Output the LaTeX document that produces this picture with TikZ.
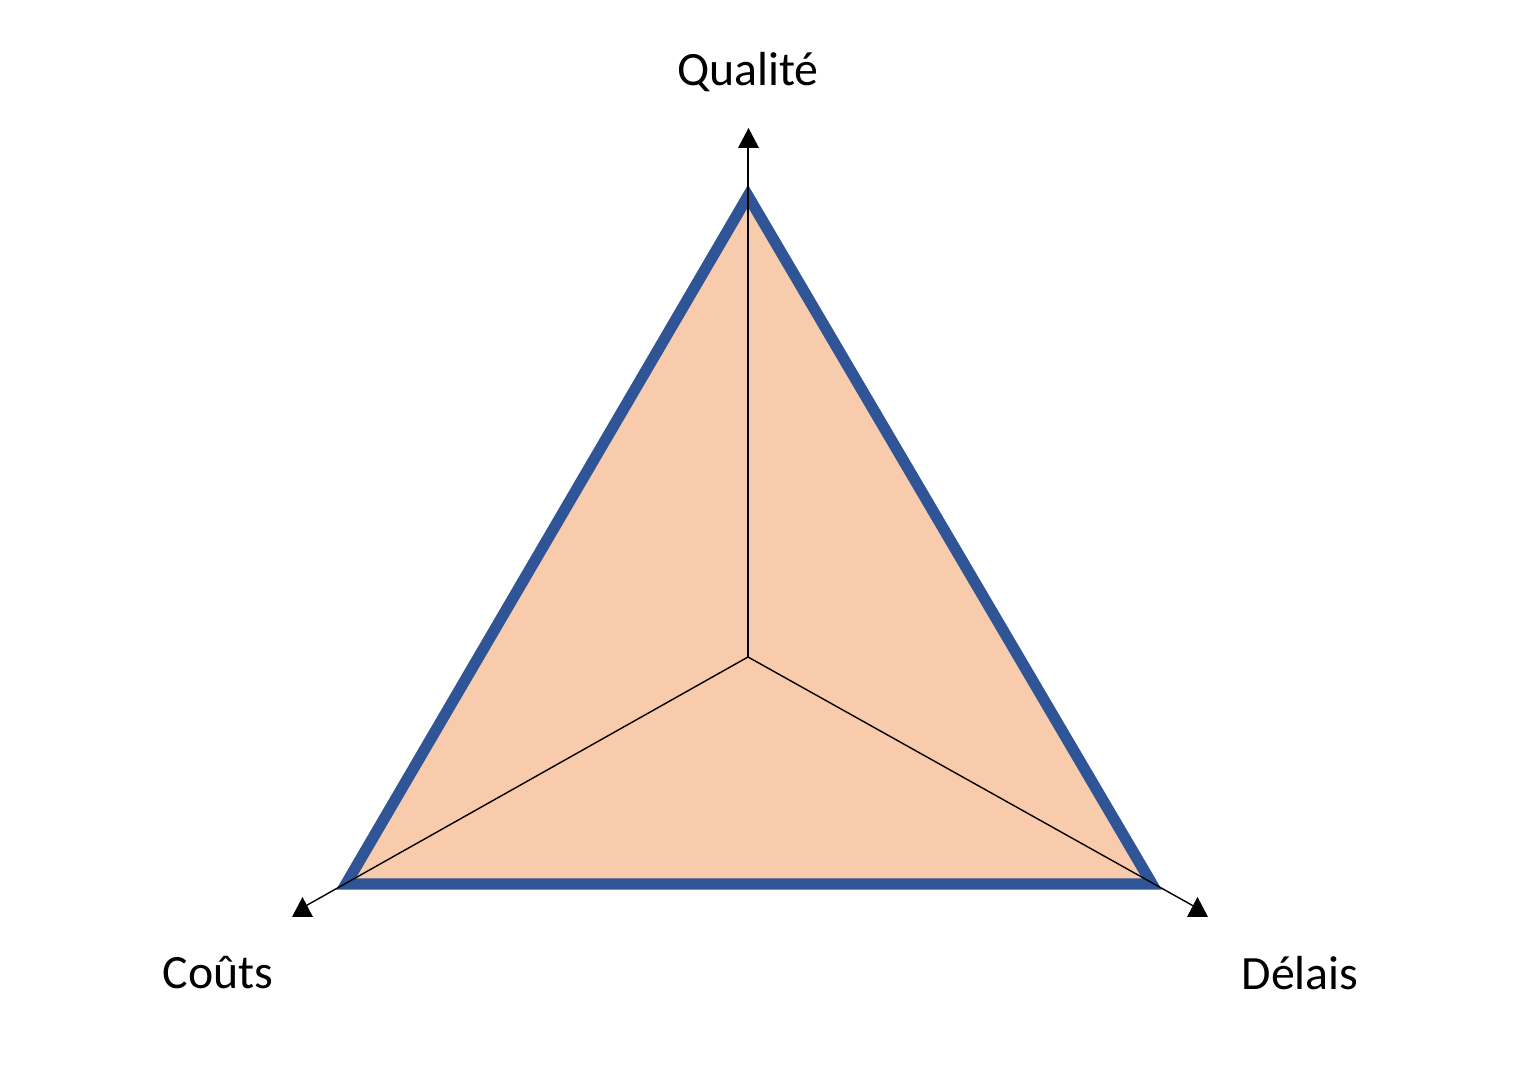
\documentclass[tikz,border=0pt]{standalone}
\usepackage{fontspec}
\setmainfont{Carlito}
\usepackage{xcolor}
\definecolor{edgeblue}{HTML}{2F5597}
\definecolor{fillpeach}{HTML}{F8CBAD}
\tikzset{
  axis/.style={black, line width=0.4pt},
  label/.style={font=\fontsize{13.6}{16}\selectfont, inner sep=0pt},
}
\newcommand{\axistip}[1]{\fill[black] (#1) ++(-10,-9) -- ++(21,0) -- ++(-10.5,20) -- cycle;}
\begin{document}
\begin{tikzpicture}[x=0.01cm, y=0.01cm]
        \useasboundingbox (0,0) rectangle (1536,1080);
        % Corners of the triangle and the centre
        \coordinate (o) at (748,423);
        \coordinate (q) at (748,884);
        \coordinate (c) at (346,196);
        \coordinate (d) at (1152,196);
        % Ends of the axes
        \coordinate (qe) at (748,941);
        \coordinate (ce) at (302,172);
        \coordinate (de) at (1197,172);

        % Filled triangle
        \filldraw[fill=fillpeach, draw=edgeblue, line width=3.2pt, line join=miter] (q) -- (c) -- (d) -- cycle;

        % Draw axes
        \draw[axis] (o) -- (qe);
        \draw[axis] (o) -- (ce);
        \draw[axis] (o) -- (de);
        \axistip{qe}
        \axistip{ce}
        \axistip{de}

        % Add labels
        \node[label] (qualite) at (748,1008) {Qualité};
        \node[label] (couts) at (218,107) {Coûts};
        \node[label] (delais) at (1300,107) {Délais};
    \end{tikzpicture}
\end{document}
